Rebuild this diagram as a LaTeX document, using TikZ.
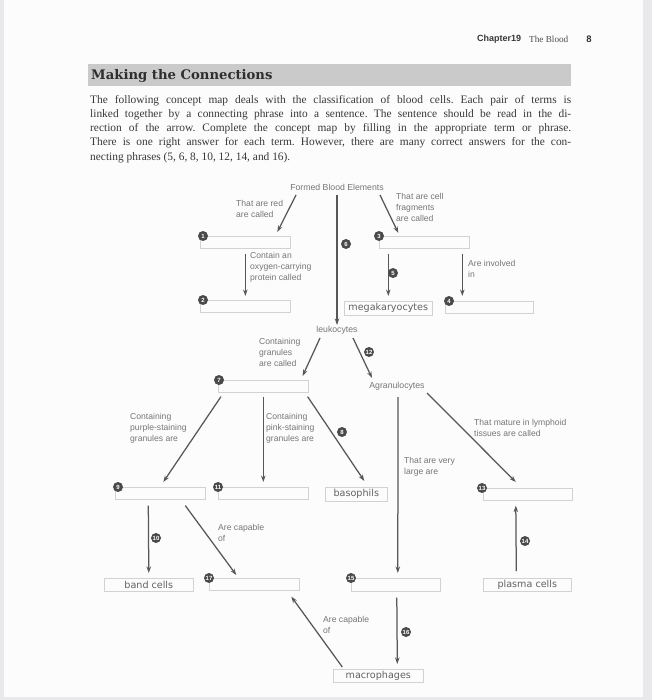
\documentclass[tikz,border=0pt]{standalone}
\usepackage{fontspec}
\setmainfont{Liberation Serif}
\newfontfamily\mapfont{Liberation Sans}
\newfontfamily\handfont{DejaVu Sans}
\newfontfamily\titlefont{DejaVu Serif}
\usetikzlibrary{arrows.meta,calc}
\definecolor{pagegray}{HTML}{E9E9EC}
\definecolor{barg}{HTML}{CACACA}
\definecolor{lblc}{HTML}{767676}
\definecolor{arrc}{HTML}{575757}
\definecolor{boxc}{HTML}{D2D2D2}
\definecolor{numc}{HTML}{4A4A4A}
\frenchspacing
\begin{document}
\begin{tikzpicture}[x=1pt,y=-1pt,
  lbl/.style={font=\mapfont\fontsize{8.6}{10.6}\selectfont, text=lblc, align=left, inner sep=0pt, anchor=north west},
  blank/.style={draw=boxc, line width=0.6pt, minimum width=90pt, minimum height=12pt, inner sep=0pt, anchor=north west},
  term/.style={blank, font=\handfont\fontsize{9.6}{10}\selectfont, text=black!62},
  num/.style={circle, fill=numc, text=white, font=\mapfont\bfseries\fontsize{6}{6}\selectfont, inner sep=0pt, minimum size=10pt},
  arr/.style={draw=arrc, line width=1.25pt, -{Stealth[length=6.5pt,width=4.5pt]}},
  ctext/.style={font=\mapfont\fontsize{8.7}{10}\selectfont, text=lblc, inner sep=0pt},
]
% page
\fill[pagegray] (0,0) rectangle (652,700);
\fill[white!99!black] (4,0) rectangle (643,697);
\useasboundingbox (0,0) rectangle (652,700);

% header
\node[font=\mapfont\bfseries\fontsize{9}{10}\selectfont, text=black!78, anchor=west, inner sep=0pt] (chap) at (477,39) {Chapter19};
\node[font=\fontsize{9.2}{10}\selectfont, text=black!70, anchor=west, inner sep=0pt] (blood) at (529,39) {The Blood};
\node[font=\mapfont\bfseries\fontsize{9.5}{10}\selectfont, text=black!80, inner sep=0pt] (pg) at (589,39) {8};

% title bar
\fill[barg] (88,64) rectangle (571,86);
\node[font=\titlefont\bfseries\fontsize{13.2}{15}\selectfont, text=black!82, anchor=west, inner sep=0pt] (title) at (91,75.5) {Making the Connections};

% paragraph
\node[anchor=north west, inner sep=0pt, text width=481pt, align=justify, font=\fontsize{11.4}{14.2}\selectfont, text=black!78] (para) at (90,95)
{The following concept map deals with the classification of blood cells. Each pair of terms is\linebreak
linked together by a connecting phrase into a sentence. The sentence should be read in the di-\linebreak
rection of the arrow. Complete the concept map by filling in the appropriate term or phrase.\linebreak
There is one right answer for each term. However, there are many correct answers for the con-\linebreak
necting phrases (5, 6, 8, 10, 12, 14, and 16).};

% concept map nodes
\node[ctext] (fbe) at (337,187) {Formed Blood Elements};
\node[blank] (b1) at (200,236) {};
\node[blank] (b3) at (379,236) {};
\node[blank] (b2) at (200,300) {};
\node[term, minimum width=88pt, minimum height=14pt] (mega) at (344,301) {megakaryocytes};
\node[blank, minimum width=88pt] (b4) at (445,301) {};
\node[ctext] (leuk) at (337,330) {leukocytes};
\node[blank] (b7) at (218,380) {};
\node[ctext] (agran) at (397,386) {Agranulocytes};
\node[blank] (b9) at (115,487) {};
\node[blank] (b11) at (218,487) {};
\node[term, minimum width=62pt, minimum height=14pt] (baso) at (325,487) {basophils};
\node[blank, minimum width=89pt] (b13) at (483,488) {};
\node[term, minimum width=89pt, minimum height=13pt] (band) at (104,578) {band cells};
\node[blank] (b17) at (209,578) {};
\node[blank, minimum width=89pt, minimum height=13pt] (b15) at (351,578) {};
\node[term, minimum width=88pt, minimum height=13pt] (plasma) at (483,578) {plasma cells};
\node[term, minimum width=90pt, minimum height=13pt] (macro) at (333,669) {macrophages};

% labels
\node[lbl] (l1) at (236,200.5) {That are red\\are called};
\node[lbl] (l3) at (396,193.5) {That are cell\\fragments\\are called};
\node[lbl] (l2) at (250,252.5) {Contain an\\oxygen-carrying\\protein called};
\node[lbl] (l4) at (468,260.5) {Are involved\\in};
\node[lbl] (l7) at (259,338.5) {Containing\\granules\\are called};
\node[lbl] (l9) at (130,413.5) {Containing\\purple-staining\\granules are};
\node[lbl] (l11) at (266,413.5) {Containing\\pink-staining\\granules are};
\node[lbl] (l15) at (404,457.5) {That are very\\large are};
\node[lbl] (l13) at (474,419.5) {That mature in lymphoid\\tissues are called};
\node[lbl] (l17) at (218,524.5) {Are capable\\of};
\node[lbl] (lm) at (323,616.5) {Are capable\\of};

% arrows
\draw[arr] ($(fbe.center)+(-41,8)$) -- ($(b1.north)+(32,-4)$);
\draw[arr] ($(fbe.center)+(0,8)$) -- ($(leuk.center)+(0,-5)$);
\draw[arr] ($(fbe.center)+(43,8)$) -- ($(b3.north)+(-26,-3)$);
\draw[arr] ($(b1.south)+(0,5)$) -- ($(b2.north)+(0,-4)$);
\draw[arr] ($(b3.south)+(-36,5)$) -- ($(mega.north)+(0,-5)$);
\draw[arr] ($(b3.south)+(38,5)$) -- ($(b4.north)+(-27,-5)$);
\draw[arr] ($(leuk.center)+(-17,8)$) -- ($(b7.north east)+(-6,-4)$);
\draw[arr] ($(leuk.center)+(16,8)$) -- ($(agran.center)+(-25,-8)$);
\draw[arr] ($(b7.south west)+(3,4)$) -- ($(b9.north)+(3,-5)$);
\draw[arr] ($(b7.south)+(0,4)$) -- ($(b11.north)+(0,-5)$);
\draw[arr] ($(b7.south east)+(-1,4)$) -- ($(baso.north)+(8,-6)$);
\draw[arr] ($(agran.center)+(1,11)$) -- ($(b15.north)+(2,-5)$);
\draw[arr] ($(agran.center)+(30,7)$) -- ($(b13.north)+(-12,-6)$);
\draw[arr] ($(plasma.north)+(-11,-7)$) -- ($(b13.south)+(-12,5)$);
\draw[arr] ($(b9.south)+(-12,6)$) -- ($(band.north)+(0,-5)$);
\draw[arr] ($(b9.south)+(25,6)$) -- ($(b17.north)+(-18,-3)$);
\draw[arr] ($(b15.south)+(1,6)$) -- ($(macro.north)+(19,-5)$);
\draw[arr] ($(macro.north)+(-36,-2)$) -- ($(b17.south)+(37,6)$);

% number markers
\node[num] (n1) at ($(b1.north west)+(3,0)$) {1};
\node[num] (n2) at ($(b2.north west)+(3,0)$) {2};
\node[num] (n3) at ($(b3.north west)+(0,0)$) {3};
\node[num] (n4) at ($(b4.north west)+(4,0)$) {4};
\node[num] (n5) at (393,273) {5};
\node[num] (n6) at (346,244) {6};
\node[num] (n7) at ($(b7.north west)+(1,0)$) {7};
\node[num] (n8) at (342,432) {8};
\node[num] (n9) at ($(b9.north west)+(3,0)$) {9};
\node[num] (n10) at (156,538) {10};
\node[num] (n11) at ($(b11.north west)+(0,0)$) {11};
\node[num] (n12) at (369,352) {12};
\node[num] (n13) at ($(b13.north west)+(-1,0)$) {13};
\node[num] (n14) at (525,541) {14};
\node[num] (n15) at ($(b15.north west)+(0,0)$) {15};
\node[num] (n16) at (406,632) {16};
\node[num] (n17) at ($(b17.north west)+(0,0)$) {17};
\end{tikzpicture}
\end{document}
